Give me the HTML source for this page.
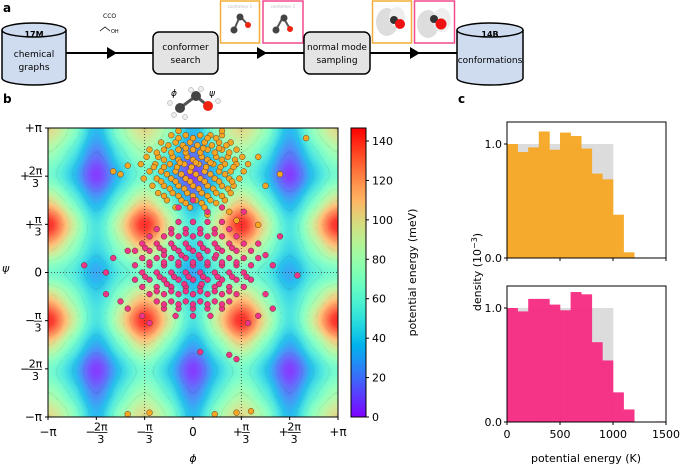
<!DOCTYPE html>
<html><head><meta charset="utf-8"><style>
body{margin:0;width:685px;height:469px;background:#fff;position:relative;overflow:hidden;font-family:"DejaVu Sans","Liberation Sans",sans-serif}
#hm{position:absolute;left:48px;top:128px;width:290px;height:289px}
#svg{position:absolute;left:0;top:0}
</style></head><body>
<canvas id="hm" width="290" height="289"></canvas>
<svg id="svg" width="685" height="469" xmlns="http://www.w3.org/2000/svg" font-family="DejaVu Sans, Liberation Sans, sans-serif">
<defs><linearGradient id="cbg" x1="0" y1="1" x2="0" y2="0"></linearGradient></defs>
<g>
<text x="3" y="12" font-size="12" font-weight="bold">a</text>
<line x1="66" y1="53" x2="458" y2="53" stroke="#000" stroke-width="2"/>
<polygon points="107,47 117,53 107,59" fill="#000"/>
<polygon points="257,47 267,53 257,59" fill="#000"/>
<polygon points="410,47 420,53 410,59" fill="#000"/>
<g>
<path d="M2,30 L2,78 A32,7 0 0 0 66,78 L66,30" fill="#cfdcf0" stroke="#000" stroke-width="1.5"/>
<ellipse cx="34" cy="30" rx="32" ry="7" fill="#cfdcf0" stroke="#000" stroke-width="1.5"/>
<text x="34" y="37" font-size="8" font-weight="bold" text-anchor="middle">17M</text>
<text x="34" y="57" font-size="9" text-anchor="middle">chemical</text>
<text x="34" y="70" font-size="9" text-anchor="middle">graphs</text></g>
<text x="103" y="18" font-size="6">CCO</text>
<path d="M100,31 L105,27 L110,31" fill="none" stroke="#000" stroke-width="0.8"/><text x="111" y="33" font-size="5">OH</text>
<g><rect x="153" y="32" width="65" height="42" rx="6" fill="#e4e4e4" stroke="#000" stroke-width="1.5"/>
<text x="185.5" y="50" font-size="9" text-anchor="middle">conformer</text><text x="185.5" y="63" font-size="9" text-anchor="middle">search</text></g>
<g><rect x="220.5" y="1" width="39" height="42" fill="#fff" stroke="#f3ad3a" stroke-width="1.5"/>
<text x="240" y="8" font-size="4" fill="#bbb" text-anchor="middle">conformer 1</text>
<line x1="234" y1="30" x2="240" y2="16" stroke="#555" stroke-width="2"/><line x1="240" y1="16" x2="248" y2="25" stroke="#555" stroke-width="2"/>
<circle cx="234" cy="30" r="3.5" fill="#444"/><circle cx="240" cy="17" r="3.5" fill="#444"/><circle cx="248" cy="25" r="3" fill="#e21"/></g>
<g><rect x="263" y="1" width="40" height="42" fill="#fff" stroke="#ef4a8c" stroke-width="1.5"/>
<text x="283" y="8" font-size="4" fill="#bbb" text-anchor="middle">conformer 2</text>
<line x1="276" y1="30" x2="283" y2="17" stroke="#555" stroke-width="2"/><line x1="283" y1="17" x2="290" y2="29" stroke="#555" stroke-width="2"/>
<circle cx="276" cy="30" r="3.5" fill="#444"/><circle cx="284" cy="18" r="3.5" fill="#444"/><circle cx="290" cy="29" r="3" fill="#e21"/></g>
<g><rect x="304" y="32" width="66" height="42" rx="6" fill="#e4e4e4" stroke="#000" stroke-width="1.5"/>
<text x="337" y="50" font-size="9" text-anchor="middle">normal mode</text><text x="337" y="63" font-size="9" text-anchor="middle">sampling</text></g>
<g><rect x="372.5" y="1" width="39" height="42" fill="#fff" stroke="#f3ad3a" stroke-width="1.5"/>
<ellipse cx="387" cy="22" rx="11" ry="14" fill="#ddd"/><ellipse cx="397" cy="17" rx="8" ry="10" fill="#eee"/><circle cx="394" cy="20" r="4" fill="#333"/><circle cx="400" cy="24" r="5" fill="#e11"/></g>
<g><rect x="414.5" y="1" width="40" height="42" fill="#fff" stroke="#ef4a8c" stroke-width="1.5"/>
<ellipse cx="428" cy="24" rx="11" ry="14" fill="#ddd"/><ellipse cx="442" cy="20" rx="9" ry="12" fill="#eee"/><circle cx="434" cy="19" r="4" fill="#333"/><circle cx="441" cy="24" r="5.5" fill="#e11"/></g>
<g>
<path d="M457,30 L457,78 A33,7 0 0 0 523,78 L523,30" fill="#cfdcf0" stroke="#000" stroke-width="1.5"/>
<ellipse cx="490" cy="30" rx="33" ry="7" fill="#cfdcf0" stroke="#000" stroke-width="1.5"/>
<text x="490" y="37" font-size="8" font-weight="bold" text-anchor="middle">14B</text>
<text x="490" y="63" font-size="9" text-anchor="middle">conformations</text></g>
</g>
<text x="3" y="103" font-size="12" font-weight="bold">b</text>
<text x="458" y="103" font-size="12" font-weight="bold">c</text>
<g>
<line x1="180" y1="108" x2="196" y2="96" stroke="#555" stroke-width="3"/><line x1="196" y1="96" x2="208" y2="106" stroke="#555" stroke-width="3"/>
<circle cx="170" cy="103" r="2.5" fill="#eee" stroke="#999" stroke-width=".5"/><circle cx="174" cy="115" r="2.5" fill="#eee" stroke="#999" stroke-width=".5"/><circle cx="185" cy="117" r="2.5" fill="#eee" stroke="#999" stroke-width=".5"/>
<circle cx="191" cy="90" r="2.5" fill="#eee" stroke="#999" stroke-width=".5"/><circle cx="201" cy="89" r="2.5" fill="#eee" stroke="#999" stroke-width=".5"/><circle cx="218" cy="101" r="2.5" fill="#eee" stroke="#999" stroke-width=".5"/>
<circle cx="180" cy="108" r="5" fill="#444"/><circle cx="196" cy="96" r="5" fill="#444"/><circle cx="208" cy="106" r="5" fill="#e21"/>
<text x="171" y="96" font-size="9" font-style="italic">ϕ</text><text x="209" y="96" font-size="9" font-style="italic">ψ</text></g>
<g id="axb"></g>
<g id="hist"></g>
</svg>
<script>
// ---------- panel b data ----------
const energyPsiRows = [
 [30,55,65],[45,75,105],[50,95,145],[30,65,100],[5,40,65],[20,55,80],[35,75,100]
];
const energyMax = 146.6;
const conformer1Rows = [
 [0.95,[-0.15,-0.05,0.05,0.12,0.2]],[0.9,[-0.22,-0.12,-0.02,0.08,0.18,0.26]],[0.88,[-0.17,-0.07,0.03,0.13,0.23]],
 [0.85,[-0.3,-0.2,-0.1,0.0,0.1,0.2,0.3]],[0.8,[-0.32,-0.24,-0.14,-0.04,0.06,0.16,0.24,0.34]],[0.78,[-0.2,-0.1,0,0.1,0.2,0.29]],
 [0.75,[-0.36,-0.26,-0.16,-0.06,0.04,0.14,0.22,0.3,0.38]],[0.7,[-0.3,-0.22,-0.12,-0.02,0.08,0.18,0.26,0.35]],[0.68,[-0.18,-0.08,0.02,0.12,0.22]],
 [0.65,[-0.34,-0.25,-0.15,-0.05,0.05,0.15,0.25,0.32]],[0.6,[-0.28,-0.2,-0.1,0.0,0.1,0.2,0.28]],[0.58,[-0.16,-0.06,0.04,0.14,0.24]],
 [0.55,[-0.24,-0.14,-0.04,0.06,0.16,0.26]],[0.5,[-0.18,-0.08,0.02,0.12,0.22]],[0.48,[-0.05,0.06,0.16]],[0.45,[-0.12,-0.02,0.08]],
 [0.93,[-0.1,0,0.1,0.16]],[0.83,[-0.25,-0.15,-0.05,0.05,0.15,0.25]],[0.73,[-0.27,-0.2,-0.11,-0.01,0.09,0.19,0.28]],
 [0.63,[-0.22,-0.12,-0.02,0.08,0.18,0.27]],[0.53,[-0.2,-0.1,0,0.1,0.2]],[0.86,[-0.05,0.07,0.18]],[0.76,[-0.09,0.02,0.12]]
];
const conformer1Outliers = [[-0.55,0.7],[-0.5,0.68],[-0.45,0.74],[0.6,0.68],[0.5,0.6],[0.45,0.8],[0.78,0.93],[-0.45,-0.98],[-0.3,-0.97],[0.3,-0.97],[0.4,-0.96],[0.15,-0.98],[0.1,0.4],[0.3,0.36],[0.45,0.33],[0.25,0.42],[-0.1,0.98],[0.2,0.98]];
const conformer2Rows = [
 [0.35,[-0.1,0.0,0.1,0.2]],[0.3,[-0.25,-0.15,-0.05,0.05,0.15,0.25]],[0.25,[-0.3,-0.2,-0.1,0.0,0.1,0.2,0.3]],
 [0.2,[-0.35,-0.25,-0.15,-0.05,0.05,0.15,0.25,0.35]],[0.15,[-0.4,-0.3,-0.2,-0.1,0.0,0.1,0.2,0.3,0.4]],
 [0.1,[-0.35,-0.25,-0.15,-0.05,0.05,0.15,0.25,0.35,0.45]],[0.05,[-0.4,-0.3,-0.2,-0.1,0.0,0.1,0.2,0.3,0.4]],
 [0.0,[-0.35,-0.25,-0.15,-0.05,0.05,0.15,0.25,0.35]],[-0.05,[-0.4,-0.3,-0.2,-0.1,0,0.1,0.2,0.3,0.4]],
 [-0.1,[-0.35,-0.25,-0.15,-0.05,0.05,0.15,0.25,0.35]],[-0.15,[-0.3,-0.2,-0.1,0,0.1,0.2,0.3]],
 [-0.2,[-0.25,-0.15,-0.05,0.05,0.15,0.25]],[-0.25,[-0.2,-0.1,0,0.1,0.2]],[-0.3,[-0.12,0.0,0.12]],
 [0.27,[-0.15,-0.05,0.05,0.15]],[0.17,[-0.33,-0.23,-0.13,-0.03,0.07,0.17,0.27]],[0.07,[-0.3,-0.2,-0.1,0,0.1,0.2,0.3]],
 [-0.03,[-0.33,-0.23,-0.13,-0.03,0.07,0.17,0.27,0.37]],[-0.13,[-0.25,-0.15,-0.05,0.05,0.15,0.25]],[-0.22,[-0.2,-0.1,0,0.1,0.2]],
 [0.12,[-0.2,-0.08,0.04,0.16]],[-0.08,[-0.18,-0.06,0.06,0.18]]
];
const conformer2Outliers = [[-0.75,0.05],[-0.6,0.0],[-0.55,0.1],[-0.6,-0.15],[-0.5,-0.2],[-0.45,-0.25],[-0.35,-0.3],[-0.3,-0.35],[-0.45,0.15],[0.45,0.2],[0.5,0.12],[0.55,0.05],[0.5,-0.15],[0.55,-0.25],[0.45,-0.3],[0.38,-0.35],[0.6,0.25],[0.72,-0.02],[0.05,-0.55],[0.25,-0.57],[0.3,-0.6],[-0.1,0.45],[0.0,0.5],[0.1,0.42],[0.35,0.42],[0.2,0.45]];
const colorbarTicks = [0,20,40,60,80,100,120,140];
// ---------- panel c data ----------
const binEdgesStart = [0,100,200,300,400,500,600,700,800,900,1000,1100,1200,1300,1400];
const conformer1Density = [1.0,0.93,0.97,1.11,0.95,1.10,1.07,0.96,0.74,0.69,0.38,0.05,0.005,0,0];
const conformer2Density = [1.0,0.97,1.08,1.08,1.03,0.98,1.14,1.12,0.70,0.54,0.26,0.11,0,0,0.005];
const referenceDensity = [1,1,1,1,1,1,1,1,1,1,0,0,0,0,0];
const histXTicks = [0,500,1000,1500];
const histYTicks = [0.0,1.0];

const NS="http://www.w3.org/2000/svg";
function mk(p,tag,at,txt){const e=document.createElementNS(NS,tag);for(const k in at)e.setAttribute(k,at[k]);if(txt!==undefined)e.textContent=txt;p.appendChild(e);return e;}
function rainbow(x){x=Math.max(0,Math.min(1,x));const r=Math.min(1,Math.abs(2*x-0.5)),g=Math.sin(Math.PI*x),b=Math.cos(Math.PI*x/2);return [r*255,g*255,b*255];}
const X0=48,X1=338,Y0=128,Y1=417;
const xs=p=>X0+(p+1)/2*(X1-X0), ys=p=>Y1-(p+1)/2*(Y1-Y0);
const fPat=[1,0.5,0,0.5,1,0.5,0,0.5,1,0.5,0,0.5,1];
function gridVal(i,j){
 i=((i%12)+12)%12; j=((j%12)+12)%12;
 const k=Math.abs(j-6); const row=energyPsiRows[k]; const f=fPat[i];
 return f===0?row[0]:(f===1?row[2]:row[1]);}
function cr(p0,p1,p2,p3,t){return 0.5*((2*p1)+(-p0+p2)*t+(2*p0-5*p1+4*p2-p3)*t*t+(-p0+3*p1-3*p2+p3)*t*t*t);}
const cv=document.getElementById('hm'),ctx=cv.getContext('2d');const img=ctx.createImageData(290,289);
for(let py=0;py<289;py++){const v=(1-(py+0.5)/289)*12;const j=Math.floor(v),tv=v-j;
 for(let px=0;px<290;px++){const u=(px+0.5)/290*12;const i=Math.floor(u),tu=u-i;
  const cols=[];for(let dj=-1;dj<=2;dj++){cols.push(cr(gridVal(i-1,j+dj),gridVal(i,j+dj),gridVal(i+1,j+dj),gridVal(i+2,j+dj),tu));}
  const E=cr(cols[0],cols[1],cols[2],cols[3],tv);let c=rainbow(E/energyMax);
  const fr=(E/20)%1; const line=(fr<0.03||fr>0.97)?0.93:1;
  const a=0.85;const o=(py*290+px)*4;
  img.data[o]=(c[0]*a+255*(1-a))*line;img.data[o+1]=(c[1]*a+255*(1-a))*line;img.data[o+2]=(c[2]*a+255*(1-a))*line;img.data[o+3]=255;}}
ctx.putImageData(img,0,0);
const ax=document.getElementById('axb');
[-1/3,1/3].forEach(p=>{const l=mk(ax,'line',{x1:xs(p),x2:xs(p),y1:Y0,y2:Y1,stroke:'#333','stroke-width':0.8,'stroke-dasharray':'1,2'});});
{const l=mk(ax,'line',{x1:X0,x2:X1,y1:ys(0),y2:ys(0),stroke:'#333','stroke-width':0.8,'stroke-dasharray':'1,2'});}
function dots(rows,outl,col,name){const g=mk(ax,'g',{});
 const pts=[];rows.forEach(r=>r[1].forEach(p=>pts.push([p,r[0]])));outl.forEach(p=>pts.push(p));
 pts.forEach(p=>{const c=mk(g,'circle',{cx:xs(p[0]),cy:ys(p[1]),r:2.9,fill:col,stroke:'#5a3a20','stroke-width':0.5});});}
dots(conformer1Rows,conformer1Outliers,'#f6a623','conformer-1-scatter');
dots(conformer2Rows,conformer2Outliers,'#f0338a','conformer-2-scatter');
mk(ax,'rect',{x:X0,y:Y0,width:X1-X0,height:Y1-Y0,fill:'none',stroke:'#000','stroke-width':1});
const tickVals=[-1,-2/3,-1/3,0,1/3,2/3,1];
const tickLab=[['−','π',''],['−','2π','3'],['−','π','3'],['','0',''],['+','π','3'],['+','2π','3'],['+','π','']];
function fracLabel(g,x,y,lab,anchorRight){
 const [s,n,d]=lab; const w=d?(n.length>1?13:8):0;
 if(!d){mk(g,'text',{x:x,y:y+4,'font-size':12,'text-anchor':anchorRight?'end':'middle'},s+n);return;}
 const total=w+9; const left=anchorRight?x-total:x-total/2;
 mk(g,'text',{x:left,y:y+4,'font-size':12},s);
 mk(g,'text',{x:left+9+w/2,y:y-1.5,'font-size':11,'text-anchor':'middle'},n);
 mk(g,'line',{x1:left+9,x2:left+9+w,y1:y+0.5,y2:y+0.5,stroke:'#000','stroke-width':0.8});
 mk(g,'text',{x:left+9+w/2,y:y+11,'font-size':11,'text-anchor':'middle'},d);}
const xt=mk(ax,'g',{});
const yt=mk(ax,'g',{});
tickVals.forEach((v,k)=>{mk(xt,'line',{x1:xs(v),x2:xs(v),y1:Y1,y2:Y1+3,stroke:'#000'});fracLabel(xt,xs(v),Y1+15,tickLab[k],false);
 mk(yt,'line',{x1:X0-3,x2:X0,y1:ys(v),y2:ys(v),stroke:'#000'});fracLabel(yt,X0-6,ys(v),tickLab[k],true);});
{const t=mk(ax,'text',{x:193,y:462,'font-size':11,'text-anchor':'middle','font-style':'italic'},'ϕ');}
{const t=mk(ax,'text',{x:2,y:272,'font-size':11,'font-style':'italic'},'ψ');}
const grad=document.getElementById('cbg');for(let k=0;k<=20;k++){const c=rainbow(k/20);mk(grad,'stop',{offset:k/20,'stop-color':`rgb(${c.map(Math.round).join(',')})`});}
const cb=mk(ax,'g',{});
mk(cb,'rect',{x:351,y:Y0,width:15,height:Y1-Y0,fill:'url(#cbg)',stroke:'#000','stroke-width':1});
const cbY=v=>Y1-v/energyMax*(Y1-Y0);
colorbarTicks.forEach(v=>{mk(cb,'line',{x1:366,x2:369,y1:cbY(v),y2:cbY(v),stroke:'#000'});mk(cb,'text',{x:372,y:cbY(v)+4,'font-size':11},String(v));});
{const t=mk(cb,'text',{x:0,y:0,'font-size':11,'text-anchor':'middle',transform:`translate(416,${(Y0+Y1)/2}) rotate(-90)`},'potential energy (meV)');}
const H=document.getElementById('hist');
const HX0=507,HX1=666,hx=v=>HX0+v/1500*(HX1-HX0);
function panel(base,top,data,col,name,showX){
 const g=mk(H,'g',{});
 const hy=v=>base-v*114;
 referenceDensity.forEach((d,k)=>{if(d>0){const r=mk(g,'rect',{x:hx(binEdgesStart[k]),y:hy(d),width:hx(100)-hx(0)+0.3,height:base-hy(d),fill:'#dcdcdc'});}});
 data.forEach((d,k)=>{const r=mk(g,'rect',{x:hx(binEdgesStart[k]),y:hy(d),width:hx(100)-hx(0)+0.3,height:base-hy(d),fill:col,'fill-opacity':0.95});});
 mk(g,'rect',{x:HX0,y:top,width:HX1-HX0,height:base-top,fill:'none',stroke:'#000','stroke-width':1});
 histYTicks.forEach(v=>{mk(g,'line',{x1:HX0-3,x2:HX0,y1:hy(v),y2:hy(v),stroke:'#000'});mk(g,'text',{x:HX0-5,y:hy(v)+4,'font-size':11,'text-anchor':'end'},v.toFixed(1));});
 histXTicks.forEach(v=>{mk(g,'line',{x1:hx(v),x2:hx(v),y1:base,y2:base+3,stroke:'#000'});if(showX)mk(g,'text',{x:hx(v),y:base+16,'font-size':11,'text-anchor':'middle'},String(v));});}
panel(258,122,conformer1Density,'#f5a623','conformer-1-histogram',false);
panel(422,286,conformer2Density,'#f52a82','conformer-2-histogram',true);
{const t=mk(H,'text',{x:586,y:462,'font-size':11,'text-anchor':'middle'},'potential energy (K)');}
{const t=mk(H,'text',{x:0,y:0,'font-size':11,'text-anchor':'middle',transform:'translate(481,272) rotate(-90)'});
 t.textContent='density (10';mk(t,'tspan',{'font-size':8,dy:-4},'−3');mk(t,'tspan',{dy:4},')');}
</script>
</body></html>
